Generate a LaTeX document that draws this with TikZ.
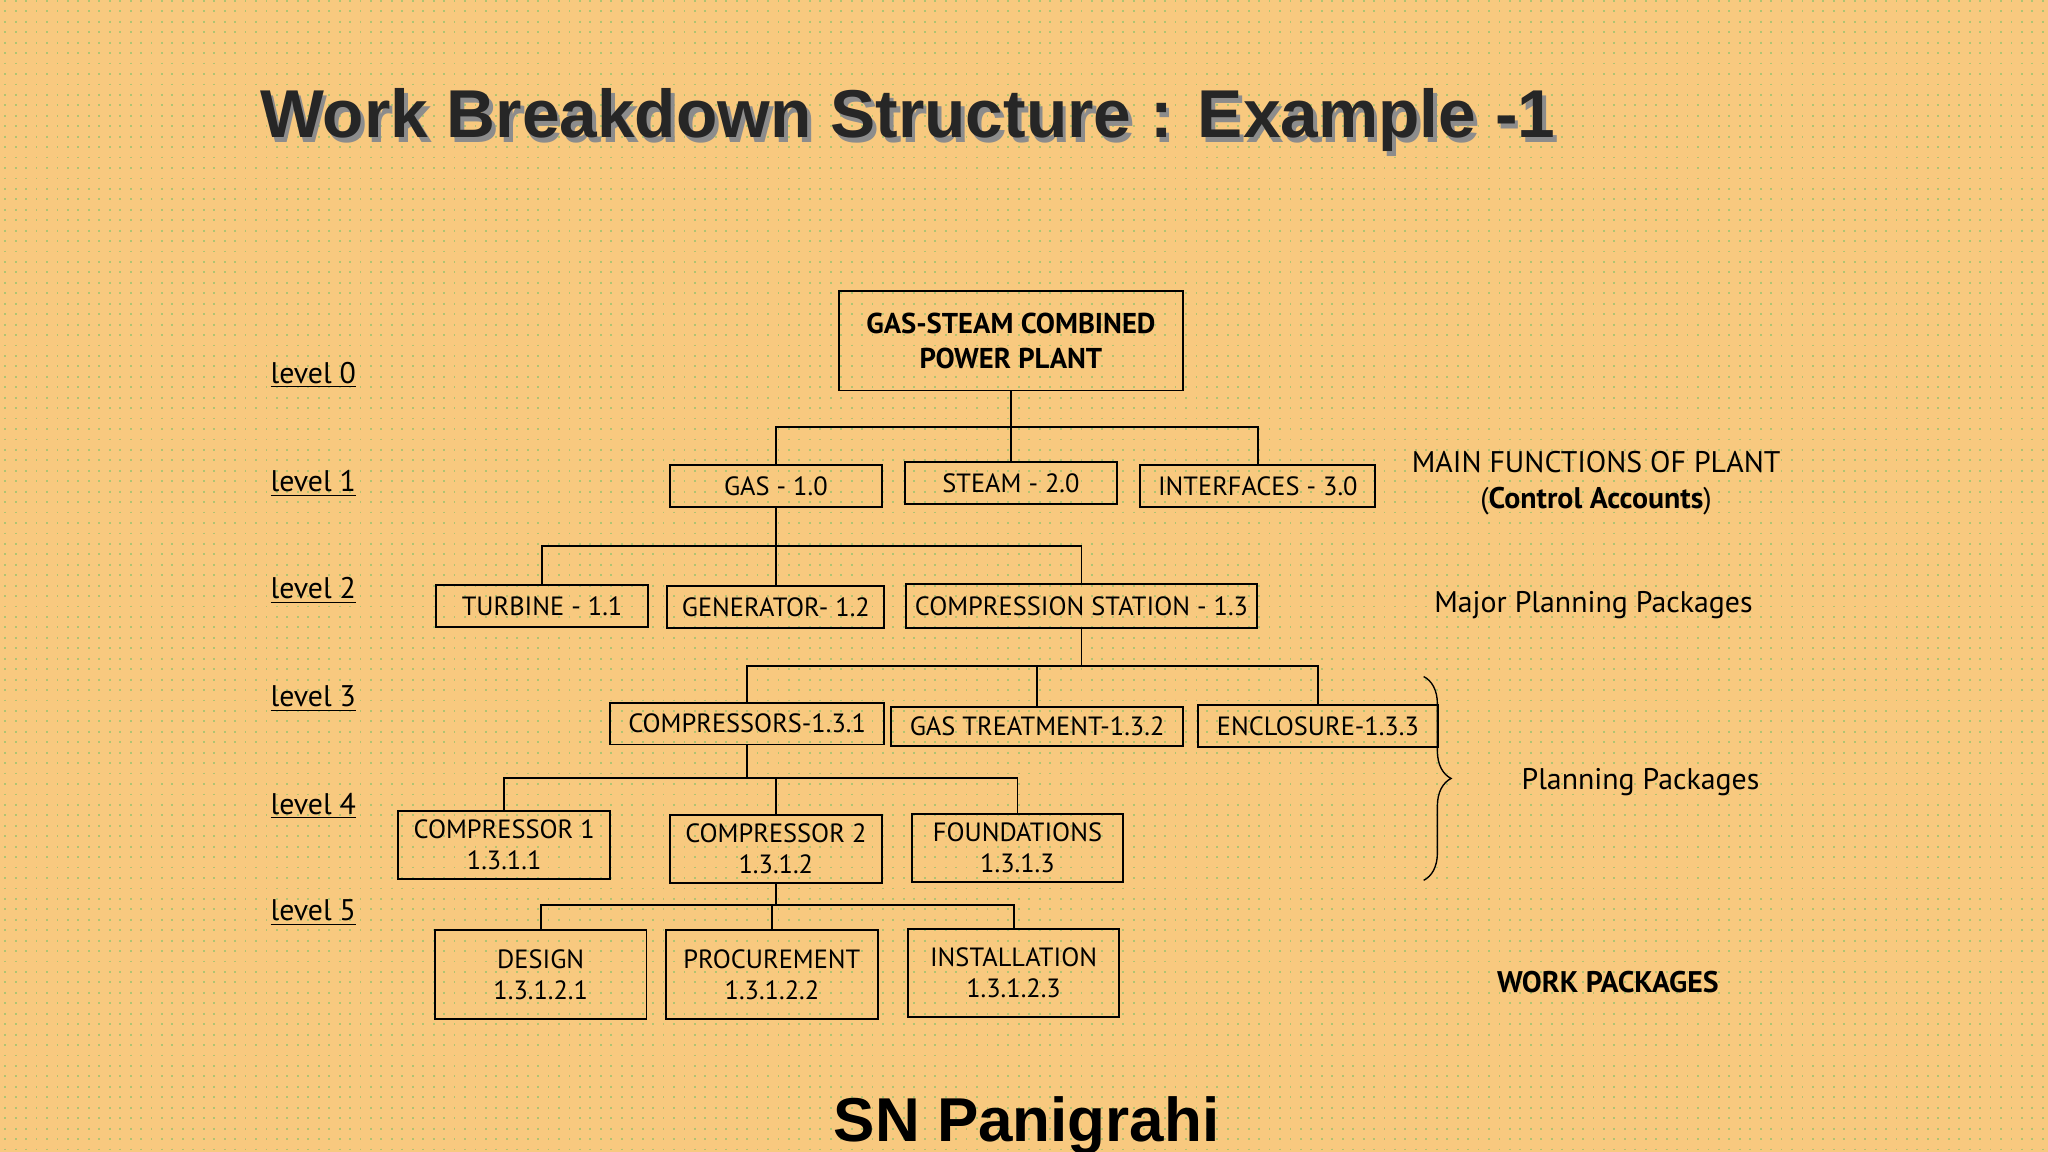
\documentclass[tikz,border=0pt]{standalone}
\usepackage{fontspec}
\setmainfont{PT Sans}
\newfontfamily\titlefont{Liberation Sans}
\usetikzlibrary{positioning,calc,decorations.pathreplacing}
\definecolor{slidebg}{HTML}{F8C97F}
\definecolor{griddot}{HTML}{AFC472}
\newcommand\shadowtext[1]{\makebox[0pt][l]{\hspace{1.6pt}\raisebox{-2pt}{\color{black!45}#1}}#1}
\tikzset{
    x=0.02cm,
    y=-0.02cm,
    wbs/.style = {
        draw,
        shape=rectangle,
        line width=0.85pt,
        align=center,
        inner sep=0pt,
        font=\fontsize{11.5}{13.5}\selectfont
    },
    link/.style = {
        draw,
        line width=0.85pt
    },
    lvl/.style = {
        anchor=west,
        font=\fontsize{13}{15}\selectfont
    },
    side/.style = {
        align=center,
        font=\fontsize{13}{16}\selectfont
    },
}
\begin{document}
\begin{tikzpicture}
    % page and background dots
    \fill[slidebg] (0,0) rectangle (1568,882);
    \useasboundingbox (0,0) rectangle (1568,882);
    \foreach \gx in {4,12,...,1568}
        \draw[griddot, line width=0.8pt, dash pattern=on 0.8pt off 3.75pt] (\gx,0) -- (\gx,882);

    % title
    \node[font=\titlefont\bfseries\fontsize{29.5}{32}\selectfont, text=black!85] (title) at (695,94) {\shadowtext{Work Breakdown Structure : Example -1}};

    % level 0 and 1
    \node[wbs, minimum width=5.28cm, minimum height=1.52cm, font=\bfseries\fontsize{12.5}{15}\selectfont] (plant) at (774,261) {GAS-STEAM COMBINED\\POWER PLANT};
    \node[wbs, minimum width=3.24cm, minimum height=0.64cm] (gas) at (594,372) {GAS - 1.0};
    \node[wbs, minimum width=3.24cm, minimum height=0.64cm] (steam) at (774,370) {STEAM - 2.0};
    \node[wbs, minimum width=3.6cm, minimum height=0.64cm] (intf) at (963,372) {INTERFACES - 3.0};

    % level 2
    \node[wbs, minimum width=3.24cm, minimum height=0.64cm] (turb) at (415,464) {TURBINE - 1.1};
    \node[wbs, minimum width=3.32cm, minimum height=0.64cm] (gen) at (594,465) {GENERATOR- 1.2};
    \node[wbs, minimum width=5.38cm, minimum height=0.68cm] (cstat) at (828,464) {COMPRESSION STATION - 1.3};

    % level 3
    \node[wbs, minimum width=4.2cm, minimum height=0.64cm] (comps) at (572,554) {COMPRESSORS-1.3.1};
    \node[wbs, minimum width=4.46cm, minimum height=0.6cm] (gtreat) at (794,556) {GAS TREATMENT-1.3.2};
    \node[wbs, minimum width=3.68cm, minimum height=0.64cm] (encl) at (1009,556) {ENCLOSURE-1.3.3};

    % level 4
    \node[wbs, minimum width=3.24cm, minimum height=1.04cm] (compa) at (386,647) {COMPRESSOR 1\\1.3.1.1};
    \node[wbs, minimum width=3.24cm, minimum height=1.04cm] (compb) at (594,650) {COMPRESSOR 2\\1.3.1.2};
    \node[wbs, minimum width=3.24cm, minimum height=1.04cm] (found) at (779,649) {FOUNDATIONS\\1.3.1.3};

    % level 5
    \node[wbs, minimum width=3.24cm, minimum height=1.36cm] (design) at (414,746) {DESIGN\\1.3.1.2.1};
    \node[wbs, minimum width=3.24cm, minimum height=1.36cm] (proc) at (591,746) {PROCUREMENT\\1.3.1.2.2};
    \node[wbs, minimum width=3.24cm, minimum height=1.36cm] (inst) at (776,745) {INSTALLATION\\1.3.1.2.3};

    % connectors
    \coordinate (bus1) at (774,327);
    \coordinate (bus2) at (594,418);
    \coordinate (bus3) at (828,510);
    \coordinate (bus4) at (572,596);
    \coordinate (bus5) at (594,693);
    \path[link] (plant) -- (bus1);
    \foreach \c in {gas,steam,intf} \path[link] (bus1) -| (\c.north);
    \path[link] (gas) -- (bus2);
    \foreach \c in {turb,gen,cstat} \path[link] (bus2) -| (\c.north);
    \path[link] (cstat) -- (bus3);
    \foreach \c in {comps,gtreat,encl} \path[link] (bus3) -| (\c.north);
    \path[link] (comps) -- (bus4);
    \foreach \c in {compa,compb,found} \path[link] (bus4) -| (\c.north);
    \path[link] (compb) -- (bus5);
    \foreach \c in {design,proc,inst} \path[link] (bus5) -| (\c.north);

    % level labels
    \foreach \n/\ly in {0/287,1/370,2/452,3/535,4/617,5/699}
        \node[lvl] (lev\n) at (201,\ly) {\underline{level \n}};

    % right side notes
    \node[side] (mainf) at (1222,370) {MAIN FUNCTIONS OF PLANT\\(\textbf{Control Accounts})};
    \node[side] (major) at (1220,463) {Major Planning Packages};
    \draw[line width=0.6pt, decorate, decoration={brace, amplitude=0.42cm}] (1090,518) -- (1090,674);
    \node[side] (plan) at (1256,599) {Planning Packages};
    \node[side, font=\bfseries\fontsize{13}{16}\selectfont] (work) at (1231,752) {WORK PACKAGES};

    % author
    \node[font=\titlefont\bfseries\fontsize{27}{30}\selectfont] (author) at (786,862) {SN Panigrahi};
\end{tikzpicture}
\end{document}
